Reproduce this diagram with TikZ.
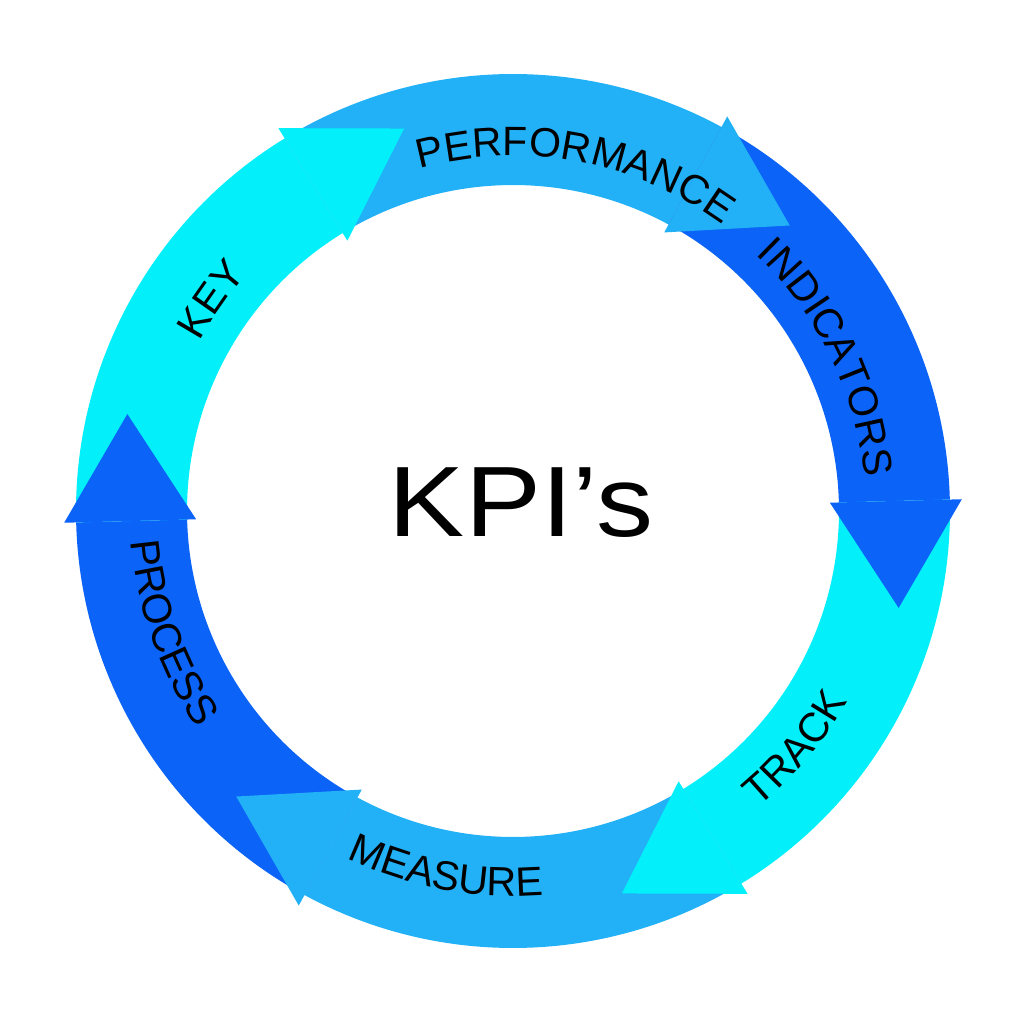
\documentclass[tikz,border=0pt]{standalone}
\usepackage{fontspec}
\setmainfont{Liberation Sans}
\usetikzlibrary{calc,decorations.text}
\definecolor{cy}{HTML}{03F0FB}
\definecolor{md}{HTML}{22B0F6}
\definecolor{dk}{HTML}{0B63F7}
\newcommand\lblfont{\fontsize{41}{41}\selectfont}
\begin{document}
\begin{tikzpicture}[x=1pt,y=1pt,
  ringtext/.style={decorate, decoration={text along path, text align=center, text={|\lblfont|#1}}},
  bigtext/.style={font=\fontsize{100}{100}\selectfont, inner sep=0pt},
]
\useasboundingbox (-513,-513) rectangle (511,511);
\fill[white] (-513,-513) rectangle (511,511);
% bands of the ring
\foreach \a/\c in {181.5/dk, 121.5/cy, 61.5/md, 1.5/dk, -58.5/cy, -118.5/md}{
  \fill[\c] (\a+60:437) arc[start angle=\a+60, end angle=\a, radius=437]
     -- (\a:326) arc[start angle=\a, end angle=\a+60, radius=326] -- cycle;
}
% arrow heads
\foreach \a/\c/\n in {181.5/dk/process, 121.5/cy/key, 61.5/md/performance, 1.5/dk/indicators, -58.5/cy/track, -118.5/md/measure}{
  \fill[\c] (\a:317) coordinate (in\n) -- (\a:449) coordinate (out\n)
     -- ($(\a:383)+(\a-90:107)$) coordinate (tip\n) -- cycle;
}
% labels along the ring
\path[ringtext=KEY] (185:356) arc[start angle=185, end angle=105, radius=356];
\path[ringtext=PERFORMANCE] (119.5:355) arc[start angle=119.5, end angle=39.5, radius=355];
\path[ringtext=INDICATORS] (66:353) arc[start angle=66, end angle=-14, radius=353];
\path[ringtext=TRACK] (-80:385) arc[start angle=-80, end angle=0, radius=385];
\path[ringtext=MEASURE] (-140.5:385) arc[start angle=-140.5, end angle=-60.5, radius=385];
\path[ringtext=PROCESS] (159.5:383) arc[start angle=159.5, end angle=239.5, radius=383];
% centre title
\node[bigtext, anchor=base] (kpi) at (8,-26) {\scalebox{1.14}[1]{KPI’s}};
\end{tikzpicture}
\end{document}
